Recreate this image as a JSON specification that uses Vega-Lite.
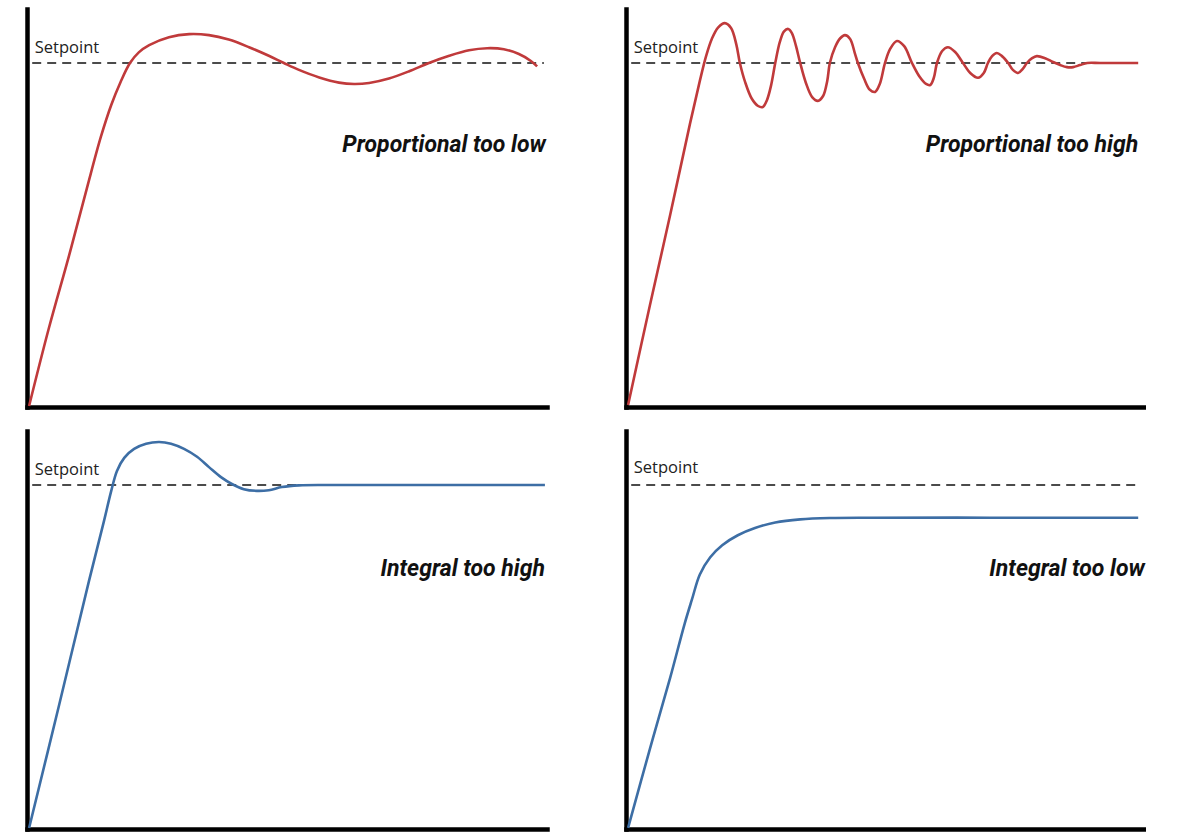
{
  "$schema": "https://vega.github.io/schema/vega-lite/v6.json",
  "background": "white",
  "padding": {"left": 23, "top": 9, "right": 0, "bottom": 0},
  "config": {
    "view": {"stroke": null},
    "axis": {"grid": false, "ticks": false, "labels": false, "domainColor": "#000000", "domainWidth": 4.5, "domainCap": "square"}
  },
  "datasets": {
    "pid": [
    {"panel": "Proportional too low", "kind": "curve", "t": 0.04, "v": 0.003},
    {"panel": "Proportional too low", "kind": "curve", "t": 0.42, "v": 0.229},
    {"panel": "Proportional too low", "kind": "curve", "t": 0.81, "v": 0.441},
    {"panel": "Proportional too low", "kind": "curve", "t": 1.15, "v": 0.635},
    {"panel": "Proportional too low", "kind": "curve", "t": 1.42, "v": 0.785},
    {"panel": "Proportional too low", "kind": "curve", "t": 1.62, "v": 0.878},
    {"panel": "Proportional too low", "kind": "curve", "t": 1.8, "v": 0.945},
    {"panel": "Proportional too low", "kind": "curve", "t": 1.98, "v": 1.0},
    {"panel": "Proportional too low", "kind": "curve", "t": 2.15, "v": 1.031},
    {"panel": "Proportional too low", "kind": "curve", "t": 2.35, "v": 1.052},
    {"panel": "Proportional too low", "kind": "curve", "t": 2.73, "v": 1.075},
    {"panel": "Proportional too low", "kind": "curve", "t": 3.12, "v": 1.084},
    {"panel": "Proportional too low", "kind": "curve", "t": 3.5, "v": 1.081},
    {"panel": "Proportional too low", "kind": "curve", "t": 3.88, "v": 1.068},
    {"panel": "Proportional too low", "kind": "curve", "t": 4.27, "v": 1.046},
    {"panel": "Proportional too low", "kind": "curve", "t": 4.65, "v": 1.021},
    {"panel": "Proportional too low", "kind": "curve", "t": 4.94, "v": 1.0},
    {"panel": "Proportional too low", "kind": "curve", "t": 5.23, "v": 0.98},
    {"panel": "Proportional too low", "kind": "curve", "t": 5.62, "v": 0.958},
    {"panel": "Proportional too low", "kind": "curve", "t": 6.0, "v": 0.943},
    {"panel": "Proportional too low", "kind": "curve", "t": 6.29, "v": 0.939},
    {"panel": "Proportional too low", "kind": "curve", "t": 6.58, "v": 0.942},
    {"panel": "Proportional too low", "kind": "curve", "t": 6.96, "v": 0.955},
    {"panel": "Proportional too low", "kind": "curve", "t": 7.35, "v": 0.976},
    {"panel": "Proportional too low", "kind": "curve", "t": 7.73, "v": 1.0},
    {"panel": "Proportional too low", "kind": "curve", "t": 8.12, "v": 1.021},
    {"panel": "Proportional too low", "kind": "curve", "t": 8.5, "v": 1.037},
    {"panel": "Proportional too low", "kind": "curve", "t": 8.85, "v": 1.043},
    {"panel": "Proportional too low", "kind": "curve", "t": 9.17, "v": 1.04},
    {"panel": "Proportional too low", "kind": "curve", "t": 9.46, "v": 1.026},
    {"panel": "Proportional too low", "kind": "curve", "t": 9.69, "v": 1.006},
    {"panel": "Proportional too low", "kind": "curve", "t": 9.81, "v": 0.99},

    {"panel": "Proportional too high", "kind": "curve", "t": 0.04, "v": 0.006},
    {"panel": "Proportional too high", "kind": "curve", "t": 0.46, "v": 0.296},
    {"panel": "Proportional too high", "kind": "curve", "t": 0.85, "v": 0.559},
    {"panel": "Proportional too high", "kind": "curve", "t": 1.23, "v": 0.823},
    {"panel": "Proportional too high", "kind": "curve", "t": 1.42, "v": 0.948},
    {"panel": "Proportional too high", "kind": "curve", "t": 1.54, "v": 1.02},
    {"panel": "Proportional too high", "kind": "curve", "t": 1.65, "v": 1.07},
    {"panel": "Proportional too high", "kind": "curve", "t": 1.77, "v": 1.103},
    {"panel": "Proportional too high", "kind": "curve", "t": 1.9, "v": 1.116},
    {"panel": "Proportional too high", "kind": "curve", "t": 2.02, "v": 1.102},
    {"panel": "Proportional too high", "kind": "curve", "t": 2.12, "v": 1.055},
    {"panel": "Proportional too high", "kind": "curve", "t": 2.19, "v": 1.0},
    {"panel": "Proportional too high", "kind": "curve", "t": 2.29, "v": 0.945},
    {"panel": "Proportional too high", "kind": "curve", "t": 2.42, "v": 0.896},
    {"panel": "Proportional too high", "kind": "curve", "t": 2.54, "v": 0.875},
    {"panel": "Proportional too high", "kind": "curve", "t": 2.63, "v": 0.872},
    {"panel": "Proportional too high", "kind": "curve", "t": 2.71, "v": 0.892},
    {"panel": "Proportional too high", "kind": "curve", "t": 2.79, "v": 0.935},
    {"panel": "Proportional too high", "kind": "curve", "t": 2.87, "v": 1.0},
    {"panel": "Proportional too high", "kind": "curve", "t": 2.96, "v": 1.062},
    {"panel": "Proportional too high", "kind": "curve", "t": 3.04, "v": 1.092},
    {"panel": "Proportional too high", "kind": "curve", "t": 3.12, "v": 1.099},
    {"panel": "Proportional too high", "kind": "curve", "t": 3.19, "v": 1.087},
    {"panel": "Proportional too high", "kind": "curve", "t": 3.27, "v": 1.049},
    {"panel": "Proportional too high", "kind": "curve", "t": 3.35, "v": 1.0},
    {"panel": "Proportional too high", "kind": "curve", "t": 3.46, "v": 0.942},
    {"panel": "Proportional too high", "kind": "curve", "t": 3.58, "v": 0.901},
    {"panel": "Proportional too high", "kind": "curve", "t": 3.69, "v": 0.89},
    {"panel": "Proportional too high", "kind": "curve", "t": 3.79, "v": 0.904},
    {"panel": "Proportional too high", "kind": "curve", "t": 3.87, "v": 0.948},
    {"panel": "Proportional too high", "kind": "curve", "t": 3.92, "v": 1.0},
    {"panel": "Proportional too high", "kind": "curve", "t": 4.02, "v": 1.046},
    {"panel": "Proportional too high", "kind": "curve", "t": 4.12, "v": 1.072},
    {"panel": "Proportional too high", "kind": "curve", "t": 4.21, "v": 1.081},
    {"panel": "Proportional too high", "kind": "curve", "t": 4.31, "v": 1.07},
    {"panel": "Proportional too high", "kind": "curve", "t": 4.4, "v": 1.029},
    {"panel": "Proportional too high", "kind": "curve", "t": 4.46, "v": 1.0},
    {"panel": "Proportional too high", "kind": "curve", "t": 4.58, "v": 0.954},
    {"panel": "Proportional too high", "kind": "curve", "t": 4.69, "v": 0.922},
    {"panel": "Proportional too high", "kind": "curve", "t": 4.79, "v": 0.916},
    {"panel": "Proportional too high", "kind": "curve", "t": 4.88, "v": 0.939},
    {"panel": "Proportional too high", "kind": "curve", "t": 4.98, "v": 1.0},
    {"panel": "Proportional too high", "kind": "curve", "t": 5.08, "v": 1.041},
    {"panel": "Proportional too high", "kind": "curve", "t": 5.21, "v": 1.064},
    {"panel": "Proportional too high", "kind": "curve", "t": 5.35, "v": 1.049},
    {"panel": "Proportional too high", "kind": "curve", "t": 5.5, "v": 1.0},
    {"panel": "Proportional too high", "kind": "curve", "t": 5.65, "v": 0.959},
    {"panel": "Proportional too high", "kind": "curve", "t": 5.77, "v": 0.939},
    {"panel": "Proportional too high", "kind": "curve", "t": 5.85, "v": 0.936},
    {"panel": "Proportional too high", "kind": "curve", "t": 5.92, "v": 0.957},
    {"panel": "Proportional too high", "kind": "curve", "t": 5.98, "v": 1.0},
    {"panel": "Proportional too high", "kind": "curve", "t": 6.08, "v": 1.035},
    {"panel": "Proportional too high", "kind": "curve", "t": 6.19, "v": 1.046},
    {"panel": "Proportional too high", "kind": "curve", "t": 6.33, "v": 1.032},
    {"panel": "Proportional too high", "kind": "curve", "t": 6.48, "v": 1.0},
    {"panel": "Proportional too high", "kind": "curve", "t": 6.62, "v": 0.971},
    {"panel": "Proportional too high", "kind": "curve", "t": 6.77, "v": 0.957},
    {"panel": "Proportional too high", "kind": "curve", "t": 6.88, "v": 0.971},
    {"panel": "Proportional too high", "kind": "curve", "t": 6.96, "v": 1.0},
    {"panel": "Proportional too high", "kind": "curve", "t": 7.04, "v": 1.02},
    {"panel": "Proportional too high", "kind": "curve", "t": 7.13, "v": 1.029},
    {"panel": "Proportional too high", "kind": "curve", "t": 7.23, "v": 1.02},
    {"panel": "Proportional too high", "kind": "curve", "t": 7.35, "v": 1.0},
    {"panel": "Proportional too high", "kind": "curve", "t": 7.44, "v": 0.98},
    {"panel": "Proportional too high", "kind": "curve", "t": 7.54, "v": 0.971},
    {"panel": "Proportional too high", "kind": "curve", "t": 7.63, "v": 0.983},
    {"panel": "Proportional too high", "kind": "curve", "t": 7.71, "v": 1.0},
    {"panel": "Proportional too high", "kind": "curve", "t": 7.81, "v": 1.014},
    {"panel": "Proportional too high", "kind": "curve", "t": 7.9, "v": 1.02},
    {"panel": "Proportional too high", "kind": "curve", "t": 8.06, "v": 1.014},
    {"panel": "Proportional too high", "kind": "curve", "t": 8.21, "v": 1.003},
    {"panel": "Proportional too high", "kind": "curve", "t": 8.35, "v": 0.994},
    {"panel": "Proportional too high", "kind": "curve", "t": 8.48, "v": 0.988},
    {"panel": "Proportional too high", "kind": "curve", "t": 8.6, "v": 0.988},
    {"panel": "Proportional too high", "kind": "curve", "t": 8.73, "v": 0.994},
    {"panel": "Proportional too high", "kind": "curve", "t": 8.87, "v": 1.0},
    {"panel": "Proportional too high", "kind": "curve", "t": 9.12, "v": 1.0},
    {"panel": "Proportional too high", "kind": "curve", "t": 9.85, "v": 1.0},

    {"panel": "Integral too high", "kind": "curve", "t": 0.04, "v": 0.003},
    {"panel": "Integral too high", "kind": "curve", "t": 0.62, "v": 0.362},
    {"panel": "Integral too high", "kind": "curve", "t": 1.19, "v": 0.72},
    {"panel": "Integral too high", "kind": "curve", "t": 1.48, "v": 0.895},
    {"panel": "Integral too high", "kind": "curve", "t": 1.62, "v": 0.983},
    {"panel": "Integral too high", "kind": "curve", "t": 1.73, "v": 1.041},
    {"panel": "Integral too high", "kind": "curve", "t": 1.87, "v": 1.079},
    {"panel": "Integral too high", "kind": "curve", "t": 2.06, "v": 1.105},
    {"panel": "Integral too high", "kind": "curve", "t": 2.29, "v": 1.12},
    {"panel": "Integral too high", "kind": "curve", "t": 2.54, "v": 1.125},
    {"panel": "Integral too high", "kind": "curve", "t": 2.77, "v": 1.12},
    {"panel": "Integral too high", "kind": "curve", "t": 3.02, "v": 1.105},
    {"panel": "Integral too high", "kind": "curve", "t": 3.27, "v": 1.082},
    {"panel": "Integral too high", "kind": "curve", "t": 3.5, "v": 1.052},
    {"panel": "Integral too high", "kind": "curve", "t": 3.73, "v": 1.023},
    {"panel": "Integral too high", "kind": "curve", "t": 3.94, "v": 1.003},
    {"panel": "Integral too high", "kind": "curve", "t": 4.17, "v": 0.988},
    {"panel": "Integral too high", "kind": "curve", "t": 4.42, "v": 0.983},
    {"panel": "Integral too high", "kind": "curve", "t": 4.65, "v": 0.985},
    {"panel": "Integral too high", "kind": "curve", "t": 4.9, "v": 0.994},
    {"panel": "Integral too high", "kind": "curve", "t": 5.23, "v": 0.999},
    {"panel": "Integral too high", "kind": "curve", "t": 5.81, "v": 1.0},
    {"panel": "Integral too high", "kind": "curve", "t": 7.5, "v": 1.0},
    {"panel": "Integral too high", "kind": "curve", "t": 9.96, "v": 1.0},

    {"panel": "Integral too low", "kind": "curve", "t": 0.04, "v": 0.003},
    {"panel": "Integral too low", "kind": "curve", "t": 0.46, "v": 0.233},
    {"panel": "Integral too low", "kind": "curve", "t": 0.85, "v": 0.44},
    {"panel": "Integral too low", "kind": "curve", "t": 1.13, "v": 0.598},
    {"panel": "Integral too low", "kind": "curve", "t": 1.27, "v": 0.668},
    {"panel": "Integral too low", "kind": "curve", "t": 1.42, "v": 0.74},
    {"panel": "Integral too low", "kind": "curve", "t": 1.62, "v": 0.79},
    {"panel": "Integral too low", "kind": "curve", "t": 1.85, "v": 0.825},
    {"panel": "Integral too low", "kind": "curve", "t": 2.15, "v": 0.854},
    {"panel": "Integral too low", "kind": "curve", "t": 2.48, "v": 0.875},
    {"panel": "Integral too low", "kind": "curve", "t": 2.87, "v": 0.891},
    {"panel": "Integral too low", "kind": "curve", "t": 3.35, "v": 0.9},
    {"panel": "Integral too low", "kind": "curve", "t": 3.92, "v": 0.904},
    {"panel": "Integral too low", "kind": "curve", "t": 4.69, "v": 0.905},
    {"panel": "Integral too low", "kind": "curve", "t": 7.0, "v": 0.905},
    {"panel": "Integral too low", "kind": "curve", "t": 9.85, "v": 0.905},

    {"panel": "Proportional too low", "kind": "setpoint", "t": 0.1, "v": 1.0},
    {"panel": "Proportional too low", "kind": "setpoint", "t": 9.94, "v": 1.0},
    {"panel": "Proportional too high", "kind": "setpoint", "t": 0.1, "v": 1.0},
    {"panel": "Proportional too high", "kind": "setpoint", "t": 9.9, "v": 1.0},
    {"panel": "Integral too high", "kind": "setpoint", "t": 0.1, "v": 1.0},
    {"panel": "Integral too high", "kind": "setpoint", "t": 9.94, "v": 1.0},
    {"panel": "Integral too low", "kind": "setpoint", "t": 0.1, "v": 1.0},
    {"panel": "Integral too low", "kind": "setpoint", "t": 9.9, "v": 1.0},

    {"panel": "Proportional too low", "kind": "setlabel", "label": "Setpoint", "t": 0.15, "v": 1.03},
    {"panel": "Proportional too high", "kind": "setlabel", "label": "Setpoint", "t": 0.15, "v": 1.03},
    {"panel": "Integral too high", "kind": "setlabel", "label": "Setpoint", "t": 0.15, "v": 1.03},
    {"panel": "Integral too low", "kind": "setlabel", "label": "Setpoint", "t": 0.15, "v": 1.035},

    {"panel": "Proportional too low", "kind": "title", "label": "Proportional too low", "t": 9.98, "v": 0.742},
    {"panel": "Proportional too high", "kind": "title", "label": "Proportional too high", "t": 9.85, "v": 0.742},
    {"panel": "Integral too high", "kind": "title", "label": "Integral too high", "t": 9.96, "v": 0.735},
    {"panel": "Integral too low", "kind": "title", "label": "Integral too low", "t": 9.98, "v": 0.735}
    ]
  },
  "data": {"name": "pid"},
  "columns": 2,
  "spacing": {"row": 19, "column": 71},
  "concat": [
    {
      "width": 520, "height": 398,
      "transform": [{"filter": "datum.panel === 'Proportional too low'"}],
      "encoding": {
        "x": {"field": "t", "type": "quantitative", "scale": {"domain": [0, 10], "nice": false, "zero": false}, "axis": {"title": null}},
        "y": {"field": "v", "type": "quantitative", "scale": {"domain": [0, 1.157], "nice": false, "zero": false}, "axis": {"title": null}}
      },
      "layer": [
        {"transform": [{"filter": "datum.kind === 'setpoint'"}], "mark": {"type": "line", "strokeDash": [9, 6], "strokeWidth": 1.4, "color": "#111111"}},
        {"transform": [{"filter": "datum.kind === 'curve'"}], "mark": {"type": "line", "interpolate": "catmull-rom", "strokeWidth": 2.6, "color": "#c03a3b"}},
        {"transform": [{"filter": "datum.kind === 'setlabel'"}], "mark": {"type": "text", "align": "left", "baseline": "alphabetic", "font": "Open Sans", "fontSize": 16.5, "color": "#222222"}, "encoding": {"text": {"field": "label"}}},
        {"transform": [{"filter": "datum.kind === 'title'"}], "mark": {"type": "text", "align": "right", "baseline": "alphabetic", "font": "Roboto", "fontSize": 23, "fontWeight": "bold", "fontStyle": "italic", "color": "#111111"}, "encoding": {"text": {"field": "label"}}}
      ]
    },
    {
      "width": 520, "height": 398,
      "transform": [{"filter": "datum.panel === 'Proportional too high'"}],
      "encoding": {
        "x": {"field": "t", "type": "quantitative", "scale": {"domain": [0, 10], "nice": false, "zero": false}, "axis": {"title": null}},
        "y": {"field": "v", "type": "quantitative", "scale": {"domain": [0, 1.157], "nice": false, "zero": false}, "axis": {"title": null}}
      },
      "layer": [
        {"transform": [{"filter": "datum.kind === 'setpoint'"}], "mark": {"type": "line", "strokeDash": [9, 6], "strokeWidth": 1.4, "color": "#111111"}},
        {"transform": [{"filter": "datum.kind === 'curve'"}], "mark": {"type": "line", "interpolate": "catmull-rom", "strokeWidth": 2.6, "color": "#c03a3b"}},
        {"transform": [{"filter": "datum.kind === 'setlabel'"}], "mark": {"type": "text", "align": "left", "baseline": "alphabetic", "font": "Open Sans", "fontSize": 16.5, "color": "#222222"}, "encoding": {"text": {"field": "label"}}},
        {"transform": [{"filter": "datum.kind === 'title'"}], "mark": {"type": "text", "align": "right", "baseline": "alphabetic", "font": "Roboto", "fontSize": 23, "fontWeight": "bold", "fontStyle": "italic", "color": "#111111"}, "encoding": {"text": {"field": "label"}}}
      ]
    },
    {
      "width": 520, "height": 398,
      "transform": [{"filter": "datum.panel === 'Integral too high'"}],
      "encoding": {
        "x": {"field": "t", "type": "quantitative", "scale": {"domain": [0, 10], "nice": false, "zero": false}, "axis": {"title": null}},
        "y": {"field": "v", "type": "quantitative", "scale": {"domain": [0, 1.157], "nice": false, "zero": false}, "axis": {"title": null}}
      },
      "layer": [
        {"transform": [{"filter": "datum.kind === 'setpoint'"}], "mark": {"type": "line", "strokeDash": [9, 6], "strokeWidth": 1.4, "color": "#111111"}},
        {"transform": [{"filter": "datum.kind === 'curve'"}], "mark": {"type": "line", "interpolate": "catmull-rom", "strokeWidth": 2.6, "color": "#3d6ea5"}},
        {"transform": [{"filter": "datum.kind === 'setlabel'"}], "mark": {"type": "text", "align": "left", "baseline": "alphabetic", "font": "Open Sans", "fontSize": 16.5, "color": "#222222"}, "encoding": {"text": {"field": "label"}}},
        {"transform": [{"filter": "datum.kind === 'title'"}], "mark": {"type": "text", "align": "right", "baseline": "alphabetic", "font": "Roboto", "fontSize": 23, "fontWeight": "bold", "fontStyle": "italic", "color": "#111111"}, "encoding": {"text": {"field": "label"}}}
      ]
    },
    {
      "width": 520, "height": 398,
      "transform": [{"filter": "datum.panel === 'Integral too low'"}],
      "encoding": {
        "x": {"field": "t", "type": "quantitative", "scale": {"domain": [0, 10], "nice": false, "zero": false}, "axis": {"title": null}},
        "y": {"field": "v", "type": "quantitative", "scale": {"domain": [0, 1.157], "nice": false, "zero": false}, "axis": {"title": null}}
      },
      "layer": [
        {"transform": [{"filter": "datum.kind === 'setpoint'"}], "mark": {"type": "line", "strokeDash": [9, 6], "strokeWidth": 1.4, "color": "#111111"}},
        {"transform": [{"filter": "datum.kind === 'curve'"}], "mark": {"type": "line", "interpolate": "catmull-rom", "strokeWidth": 2.6, "color": "#3d6ea5"}},
        {"transform": [{"filter": "datum.kind === 'setlabel'"}], "mark": {"type": "text", "align": "left", "baseline": "alphabetic", "font": "Open Sans", "fontSize": 16.5, "color": "#222222"}, "encoding": {"text": {"field": "label"}}},
        {"transform": [{"filter": "datum.kind === 'title'"}], "mark": {"type": "text", "align": "right", "baseline": "alphabetic", "font": "Roboto", "fontSize": 23, "fontWeight": "bold", "fontStyle": "italic", "color": "#111111"}, "encoding": {"text": {"field": "label"}}}
      ]
    }
  ]
}
